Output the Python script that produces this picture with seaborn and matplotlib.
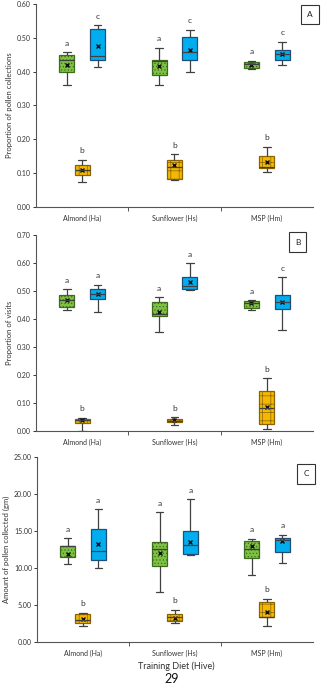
import numpy as np
import pandas as pd
import matplotlib.pyplot as plt
import seaborn as sns

diets = ['Almond (Ha)', 'Sunflower (Hs)', 'MSP (Hm)']
groups = ['green', 'yellow', 'blue']

# five-number summaries: [min, q1, median, q3, max]
a_green = [[0.360, 0.398, 0.435, 0.449, 0.457], [0.361, 0.391, 0.431, 0.434, 0.470], [0.408, 0.411, 0.424, 0.430, 0.432]]
a_yellow = [[0.074, 0.094, 0.108, 0.125, 0.139], [0.079, 0.083, 0.118, 0.138, 0.155], [0.102, 0.115, 0.118, 0.150, 0.178]]
a_blue = [[0.413, 0.436, 0.446, 0.525, 0.538], [0.398, 0.434, 0.457, 0.503, 0.524], [0.420, 0.434, 0.451, 0.464, 0.488]]
a_means = {'green': [0.421, 0.417, 0.421], 'yellow': [0.109, 0.124, 0.133], 'blue': [0.475, 0.465, 0.452]}
a_letters = {'green': ['a', 'a', 'a'], 'yellow': ['b', 'b', 'b'], 'blue': ['c', 'c', 'c']}

b_green = [[0.431, 0.442, 0.468, 0.487, 0.506], [0.352, 0.410, 0.417, 0.460, 0.477], [0.433, 0.440, 0.458, 0.464, 0.467]]
b_yellow = [[0.000, 0.027, 0.040, 0.043, 0.046], [0.021, 0.031, 0.035, 0.043, 0.049], [0.006, 0.024, 0.081, 0.143, 0.188]]
b_blue = [[0.425, 0.470, 0.490, 0.507, 0.521], [0.502, 0.507, 0.517, 0.551, 0.599], [0.361, 0.436, 0.460, 0.486, 0.549]]
b_means = {'green': [0.468, 0.425, 0.458], 'yellow': [0.040, 0.039, 0.087], 'blue': [0.490, 0.533, 0.460]}
b_letters = {'green': ['a', 'a', 'a'], 'yellow': ['b', 'b', 'b'], 'blue': ['a', 'a', 'c']}

c_green = [[10.5, 11.5, 12.9, 13.0, 14.0], [6.8, 10.3, 12.5, 13.5, 17.5], [9.05, 11.35, 12.6, 13.6, 13.9]]
c_yellow = [[2.12, 2.48, 2.93, 3.74, 3.96], [2.5, 2.8, 3.3, 3.7, 4.3], [2.2, 3.3, 3.4, 5.36, 5.85]]
c_blue = [[10.0, 11.1, 12.25, 15.3, 17.9], [11.8, 11.9, 13.15, 15.0, 19.3], [10.6, 12.1, 13.7, 14.05, 14.5]]
c_means = {'green': [11.9, 12.0, 12.9], 'yellow': [3.06, 3.2, 4.1], 'blue': [13.2, 13.5, 13.65]}
c_letters = {'green': ['a', 'a', 'a'], 'yellow': ['b', 'b', 'b'], 'blue': ['a', 'a', 'a']}

face = {'green': '#7DC242', 'yellow': '#F5B800', 'blue': '#00AEEF'}
edge = {'green': '#3F6B1E', 'yellow': '#8A6400', 'blue': '#1F4E79'}
hatch = {'green': '.....', 'yellow': '++', 'blue': None}

sns.set_style('ticks')
plt.rcParams['font.family'] = ['Lato', 'DejaVu Sans']
plt.rcParams['hatch.linewidth'] = 0.5


def long_frame(green, yellow, blue):
    rows = []
    for g, arr in zip(groups, [green, yellow, blue]):
        for d, vals in zip(diets, arr):
            for v in vals:
                rows.append({'diet': d, 'group': g, 'value': v})
    return pd.DataFrame(rows)


def mean_frame(means):
    return pd.DataFrame([{'diet': d, 'group': g, 'value': means[g][i]}
                         for g in groups for i, d in enumerate(diets)])


fig = plt.figure(figsize=(3.21, 6.85), dpi=100)

panels = [
    ([0.112, 0.698, 0.863, 0.296], long_frame(a_green, a_yellow, a_blue), a_means, a_letters,
     'Proportion of pollen collections', 0.6, 0.1, 'A', (0.99, 0.948)),
    ([0.112, 0.371, 0.863, 0.286], long_frame(b_green, b_yellow, b_blue), b_means, b_letters,
     'Proportion of visits', 0.7, 0.1, 'B', (0.944, 0.964)),
    ([0.115, 0.063, 0.860, 0.270], long_frame(c_green, c_yellow, c_blue), c_means, c_letters,
     'Amount of pollen collected (gm)', 25, 5, 'C', (0.975, 0.908)),
]

box_w = 0.5
offs = (np.arange(len(groups)) - 1) * box_w / len(groups)

for rect, df, means, letters, ylab, ymax, ystep, tag, tagpos in panels:
    ax = fig.add_axes(rect)
    sns.boxplot(data=df, x='diet', y='value', hue='group', order=diets, hue_order=groups,
                palette=face, saturation=1, width=box_w, gap=0.02, whis=(0, 100),
                linewidth=0.9, linecolor='#404040', fliersize=0, legend=False, ax=ax)
    for p in ax.patches:
        fc = p.get_facecolor()
        for g in groups:
            if np.allclose(fc[:3], plt.matplotlib.colors.to_rgb(face[g]), atol=0.01):
                p.set_edgecolor(edge[g])
                p.set_hatch(hatch[g])
    sns.pointplot(data=mean_frame(means), x='diet', y='value', hue='group', order=diets,
                  hue_order=groups, palette={g: '#111111' for g in groups}, dodge=box_w * 2 / 3,
                  markers='x', linestyle='none', errorbar=None, markersize=3, markeredgewidth=1,
                  legend=False, ax=ax)
    tops = df.groupby(['group', 'diet'])['value'].max()
    for j, g in enumerate(groups):
        for i, d in enumerate(diets):
            ax.annotate(letters[g][i], (i + offs[j], tops[(g, d)]), xytext=(0, 4),
                        textcoords='offset points', ha='center', va='bottom',
                        fontsize=6, color='#333333')
    ax.set_xlim(-0.5, 2.5)
    ax.set_ylim(0, ymax)
    ax.set_yticks(np.arange(0, ymax + ystep / 2, ystep))
    ax.yaxis.set_major_formatter(plt.matplotlib.ticker.FormatStrFormatter('%.2f'))
    ax.set_xticks([0.5, 1.5], minor=True)
    ax.tick_params(axis='x', which='major', length=0, labelsize=5, colors='#333333', pad=6)
    ax.tick_params(axis='x', which='minor', length=3, width=0.7, color='#555555')
    ax.tick_params(axis='y', length=2, width=0.7, labelsize=5, colors='#333333', pad=1.5)
    ax.set_xlabel('')
    ax.set_ylabel(ylab, fontsize=5.5, color='#333333', labelpad=3)
    for s in ['left', 'bottom']:
        ax.spines[s].set_color('#555555')
        ax.spines[s].set_linewidth(0.8)
    sns.despine(ax=ax)
    ax.text(tagpos[0], tagpos[1], tag, transform=ax.transAxes, ha='center', va='center',
            fontsize=6, color='#222222',
            bbox=dict(boxstyle='square,pad=0.75', fc='white', ec='#333333', lw=0.8))

fig.text(0.548, 0.028, 'Training Diet (Hive)', ha='center', va='center', fontsize=6.5, color='#333333')
fig.text(0.536, 0.009, '29', ha='center', va='center', fontsize=9, color='#111111')

fig.savefig('out.png', dpi=100)
